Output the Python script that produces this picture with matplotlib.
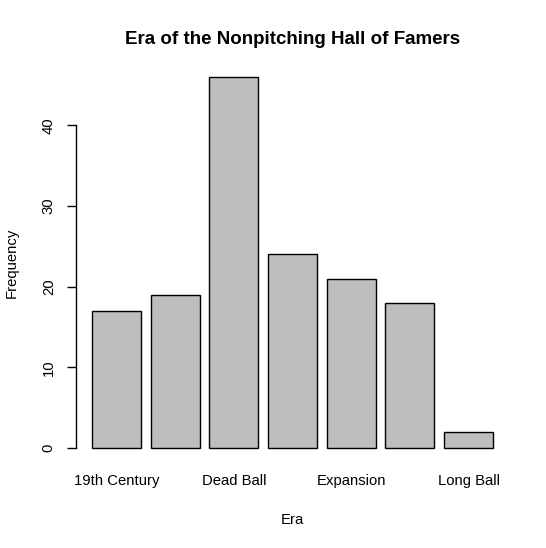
import matplotlib
matplotlib.use("Agg")
import matplotlib.pyplot as plt

plt.rcParams['font.family'] = ['Liberation Sans', 'DejaVu Sans']

# eras and counts of nonpitching hall of famers
eras = ['19th Century', 'Pre-Dead Ball', 'Dead Ball', 'Integration',
        'Expansion', 'Free Agency', 'Long Ball']
counts = [17, 19, 46, 24, 21, 18, 2]
y_ticks = [0, 10, 20, 30, 40]

W, H = 546, 548
fig = plt.figure(figsize=(W / 100, H / 100), dpi=100)
# plot region in pixels (R style)
left, right, top, bottom = 76, 509, 62, 463
ax = fig.add_axes([left / W, 1 - bottom / H, (right - left) / W, (bottom - top) / H])

centers = [0.7 + 1.2 * i for i in range(len(eras))]
ax.bar(centers, counts, width=1.0, color='#bebebe', edgecolor='black', linewidth=1.0)

# R: xlim = range of bar edges, padded 4% each side
x0, x1 = centers[0] - 0.5, centers[-1] + 0.5
pad = 0.04 * (x1 - x0)
ax.set_xlim(x0 - pad, x1 + pad)
ymax = max(counts)
ax.set_ylim(-0.04 * ymax, ymax * 1.04)

for s in ['top', 'right', 'bottom']:
    ax.spines[s].set_visible(False)
ax.spines['left'].set_bounds(0, 40)
ax.spines['left'].set_linewidth(1.0)

fs = 10.7
ax.set_yticks(y_ticks)
ax.set_yticklabels([str(t) for t in y_ticks], rotation=90, va='center', fontsize=fs)
ax.tick_params(axis='y', length=6.5, width=1.0, pad=8)

# R drops overlapping labels: only every other one is shown
ax.set_xticks(centers[::2])
ax.set_xticklabels(eras[::2], fontsize=fs)
ax.tick_params(axis='x', length=0, pad=8)

fig.text(0.5 * (left + right) / W, 1 - 39 / H, 'Era of the Nonpitching Hall of Famers',
         ha='center', va='center', fontsize=13.5, fontweight='bold')
fig.text(0.5 * (left + right) / W, 1 - 520 / H, 'Era', ha='center', va='center', fontsize=fs)
fig.text(12 / W, 1 - 0.5 * (top + bottom) / H, 'Frequency', ha='center', va='center',
         rotation=90, fontsize=fs)

fig.savefig('out.png', dpi=100)
